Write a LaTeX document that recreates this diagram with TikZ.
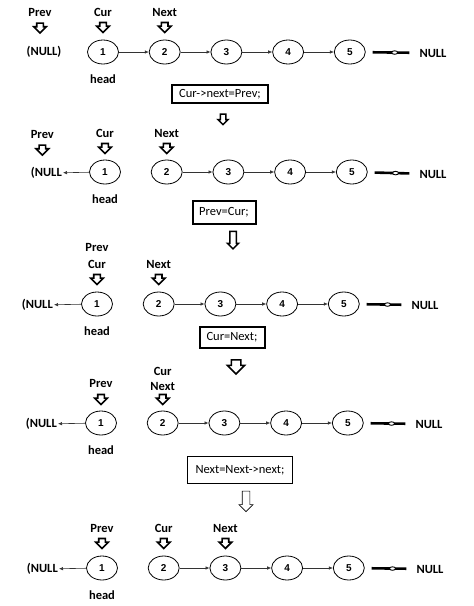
\documentclass[tikz,border=0pt]{standalone}
\usepackage{fontspec}
\setmainfont{Carlito}
\newfontfamily\digitfont{Liberation Sans}
\usetikzlibrary{positioning,shapes.geometric,shapes.arrows,arrows.meta}

\begin{document}
\begin{tikzpicture}[
  x=1pt, y=-1pt,
  item/.style={ellipse, draw, line width=0.8pt, minimum width=31pt, minimum height=24pt,
    inner sep=0pt, font=\digitfont\bfseries\fontsize{10}{12}\selectfont},
  lbl/.style={inner sep=1pt, font=\bfseries\fontsize{12.5}{14}\selectfont},
  ptr/.style={single arrow, draw, line width=1.6pt, shape border rotate=270,
    minimum height=10pt, inner sep=2.5pt, single arrow head extend=3pt},
  link/.style={draw=black!80, line width=0.6pt, -{Latex[length=4pt,width=3.5pt]}},
  nullbar/.style={draw, line width=2.6pt},
  nulldot/.style={ellipse, draw, fill=white, line width=0.9pt, minimum width=6pt,
    minimum height=3.5pt, inner sep=0pt},
  stepbox/.style={draw, line width=2pt, inner sep=0pt, font=\fontsize{12.5}{14}\selectfont},
  stepdown/.style={single arrow, draw, shape border rotate=270, line width=1.5pt}
]
\useasboundingbox (0,0) rectangle (474,606);

% list nodes of every row
\foreach \r/\x/\y in {1/103/52, 2/105/172, 3/97/304, 4/101/423, 5/102/568}
  \foreach \k in {1,...,5}
    \node[item] (n\r-\k) at ({\x+61.7*(\k-1)},\y) {\k};

\foreach \r in {1,...,5}
  \foreach \k/\j in {2/3, 3/4, 4/5}
    \draw[link] (n\r-\k) -- (n\r-\j);
\draw[link] (n1-1) -- (n1-2);

% NULL at the tail
\foreach \r/\x/\y in {1/433/53, 2/433/174, 3/425/305, 4/429/424, 5/430/569} {
  \node[lbl] (end\r) at (\x,\y) {NULL};
  \draw[nullbar, shorten <=7pt, shorten >=9pt] (n\r-5) -- (end\r) node[nulldot, pos=0.55] {};
  \node[lbl, below=9pt of n\r-1] (head\r) {head};
}

% NULL in front
\node[lbl] (nil1) at (44,52) {(NULL)};
\foreach \r/\x/\y in {2/63/173, 3/54/305, 4/58/424, 5/59/569} {
  \node[lbl, anchor=east] (nil\r) at (\x,\y) {(NULL};
  \draw[link] (n\r-1) -- (nil\r);
}

% row 1
\node[ptr, above=11pt of nil1, xshift=-4pt] (prev1) {};
\node[ptr, above=6pt of n1-1] (cur1) {};
\node[ptr, above=6pt of n1-2] (next1) {};
\node[lbl, above=4pt of prev1] {Prev};
\node[lbl, above=4pt of cur1] {Cur};
\node[lbl, above=4pt of next1] {Next};

\node[stepbox, minimum width=96pt, minimum height=18pt] (s1) at (220,94) {Cur->next=Prev;};
\node[stepdown, minimum height=10.5pt, inner sep=2pt, single arrow head extend=2.2pt] (d1) at (223,118) {};

% row 2
\node[ptr, above=10pt of nil2, xshift=-4pt] (prev2) {};
\node[ptr, above=5pt of n2-1] (cur2) {};
\node[ptr, above=5pt of n2-2] (next2) {};
\node[lbl, above=4pt of prev2] {Prev};
\node[lbl, above=4pt of cur2] {Cur};
\node[lbl, above=4pt of next2] {Next};

\node[stepbox, minimum width=63pt, minimum height=23pt] (s2) at (224,212) {Prev=Cur;};
\node[stepdown, minimum height=17.5pt, inner sep=2.5pt, single arrow head extend=2.2pt] (d2) at (233,238.5) {};

% row 3
\node[ptr, above=6pt of n3-1] (cur3) {};
\node[ptr, above=6pt of n3-2] (next3) {};
\node[lbl, above=4pt of cur3] (cur3l) {Cur};
\node[lbl, above=6pt of cur3l] {Prev};
\node[lbl, above=4pt of next3] {Next};

\node[stepbox, minimum width=65pt, minimum height=21pt] (s3) at (232,337) {Cur=Next;};
\node[stepdown, minimum height=13.5pt, inner sep=4pt, single arrow head extend=3.8pt] (d3) at (236,364.5) {};

% row 4
\node[ptr, above=5pt of n4-1] (prev4) {};
\node[ptr, above=5pt of n4-2] (cur4) {};
\node[lbl, above=5pt of prev4] {Prev};
\node[lbl, above=2pt of cur4] (next4l) {Next};
\node[lbl, above=4pt of next4l] {Cur};

\node[stepbox, line width=0.7pt, minimum width=105pt, minimum height=27pt] (s4) at (240,470) {Next=Next->next;};
\node[stepdown, line width=0.6pt, minimum height=20.5pt, inner sep=3.5pt, single arrow head extend=3.2pt] (d4) at (246,499.5) {};

% row 5
\node[ptr, above=6pt of n5-1] (prev5) {};
\node[ptr, above=6pt of n5-2] (cur5) {};
\node[ptr, above=6pt of n5-3] (next5) {};
\node[lbl, above=4pt of prev5] {Prev};
\node[lbl, above=4pt of cur5] {Cur};
\node[lbl, above=4pt of next5] {Next};
\end{tikzpicture}
\end{document}
